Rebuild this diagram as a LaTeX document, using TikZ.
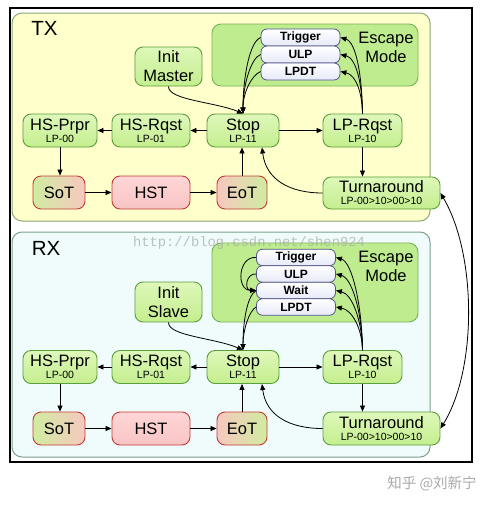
\documentclass[tikz,border=0pt]{standalone}
\usepackage{fontspec}
\setmainfont{Liberation Sans}
\newfontfamily\wmmono{Liberation Mono}
\newfontfamily\wmcjk{Noto Sans CJK SC}
\usetikzlibrary{arrows.meta,calc}
\definecolor{txfill}{RGB}{255,255,204}
\definecolor{txline}{RGB}{138,168,118}
\definecolor{rxfill}{RGB}{240,252,252}
\definecolor{rxline}{RGB}{122,160,140}
\definecolor{escfill}{RGB}{190,236,143}
\definecolor{escline}{RGB}{120,178,88}
\definecolor{gntop}{RGB}{222,248,186}
\definecolor{gnbot}{RGB}{196,238,142}
\definecolor{gnline}{RGB}{92,158,60}
\definecolor{pktop}{RGB}{255,214,214}
\definecolor{pkbot}{RGB}{248,196,196}
\definecolor{pkside}{RGB}{246,200,192}
\definecolor{gnside}{RGB}{208,236,160}
\definecolor{rdline}{RGB}{196,58,50}
\definecolor{ebbot}{RGB}{230,234,248}
\definecolor{ebline}{RGB}{84,84,140}
\definecolor{wmgray}{RGB}{170,170,170}
\newcommand\mybig{\fontsize{16.5}{13}\selectfont}
\newcommand\mytwo{\fontsize{16.5}{19}\selectfont}
\newcommand\mysmall{\fontsize{10.5}{13}\selectfont}
\newcommand\mybold{\fontsize{12}{14}\selectfont\bfseries}
\tikzset{
  gn/.style={draw=gnline, line width=0.9pt, rounded corners=8pt, top color=gntop, bottom color=gnbot,
    align=center, inner sep=0pt, minimum height=33pt},
  soe/.style={draw=rdline, line width=0.9pt, rounded corners=8pt, left color=gnside, right color=pkside,
    inner sep=0pt, minimum height=33pt, font=\mybig},
  eoe/.style={draw=rdline, line width=0.9pt, rounded corners=8pt, left color=pkside, right color=gnside,
    inner sep=0pt, minimum height=33pt, font=\mybig},
  hs/.style={draw=rdline, line width=0.9pt, rounded corners=8pt, top color=pktop, bottom color=pkbot,
    inner sep=0pt, minimum height=33pt, font=\mybig},
  eb/.style={draw=ebline, line width=0.8pt, rounded corners=6pt, top color=white, bottom color=ebbot,
    minimum width=79pt, minimum height=17pt, inner sep=0pt, font=\mybold},
  panelbox/.style={line width=1pt, rounded corners=10pt},
  escbox/.style={draw=escline, fill=escfill, line width=0.9pt, rounded corners=9pt},
  arr/.style={-{Triangle[length=6pt,width=5pt]}, line width=0.8pt},
  biarr/.style={{Triangle[length=6pt,width=5pt]}-{Triangle[length=6pt,width=5pt]}, line width=0.8pt},
  lbl/.style={inner sep=0pt, font=\fontsize{20.5}{22}\selectfont},
  esclbl/.style={inner sep=0pt, align=center, font=\mytwo},
}
\begin{document}
\begin{tikzpicture}[x=1pt,y=-1pt]
\useasboundingbox (0,0) rectangle (490,507);
\fill[white] (0,0) rectangle (490,507);
% outer frame
\draw[line width=1.1pt] (10,8) rectangle (472,462);
% panels
\draw[panelbox, draw=txline, fill=txfill] (12,13) rectangle (430,221);
\draw[panelbox, draw=rxline, fill=rxfill] (12,232) rectangle (430,457);
\node[lbl] (txl) at (44.5,28.5) {TX};
\node[lbl] (rxl) at (46,248) {RX};
% escape mode boxes
\draw[escbox] (212,24) rectangle (418,86);
\draw[escbox] (212,243) rectangle (418,322);
\node[esclbl] (escT) at (386,47.5) {Escape\\Mode};
\node[esclbl] (escR) at (386,266.5) {Escape\\Mode};

% ---------- TX ----------
\node[gn, font=\mytwo, minimum width=67pt, minimum height=39pt] (imT) at (168.5,66.5) {Init\\Master};
\node[gn, minimum width=74pt] (hpT) at (60,130.5) {\mybig HS-Prpr\\\mysmall LP-00};
\node[gn, minimum width=78pt] (hrT) at (151,130.5) {\mybig HS-Rqst\\\mysmall LP-01};
\node[gn, minimum width=72pt] (stT) at (243,130.5) {\mybig Stop\\\mysmall LP-11};
\node[gn, minimum width=79pt] (lrT) at (362.5,130.5) {\mybig LP-Rqst\\\mysmall LP-10};
\node[soe, minimum width=52pt] (soT) at (59,192.5) {SoT};
\node[hs, minimum width=78pt] (hsT) at (151,192.5) {HST};
\node[eoe, minimum width=50pt] (eoT) at (242,192.5) {EoT};
\node[gn, minimum width=117pt, minimum height=32pt] (taT) at (381.5,193) {\mybig Turnaround\\\mysmall LP-00>10>00>10};
\node[eb] (trT) at (300.5,37.5) {Trigger};
\node[eb] (ulT) at (300.5,54.5) {ULP};
\node[eb] (ldT) at (300.5,71.5) {LPDT};

\draw[arr] (stT) -- (hrT);
\draw[arr] (hrT) -- (hpT);
\draw[arr] (hpT) -- (hpT |- soT.north);
\draw[arr] (soT) -- (hsT);
\draw[arr] (hsT) -- (eoT);
\draw[arr] (eoT.north) -- (eoT |- stT.south);
\draw[arr] (stT) -- (lrT);
\draw[arr] (lrT) -- (lrT |- taT.north);
\draw[arr] (taT.west) .. controls (290,193) and (266,180) .. ([xshift=19pt]stT.south);
\draw[arr] (imT.south) .. controls (168,100) and (215,102) .. (stT.north);
\draw[arr] (trT.west) .. controls (249,42) and (243,80) .. (stT.north);
\draw[arr] (ulT.west) .. controls (251,58) and (243,85) .. (stT.north);
\draw[arr] (ldT.west) .. controls (252,75) and (243,92) .. (stT.north);
\draw[arr] (lrT.north) .. controls (362,75) and (356,42) .. (trT.east);
\draw[arr] (lrT.north) .. controls (362,82) and (356,58) .. (ulT.east);
\draw[arr] (lrT.north) .. controls (362,92) and (356,75) .. (ldT.east);

% ---------- RX ----------
\node[gn, font=\mytwo, minimum width=67pt, minimum height=40pt] (imR) at (168.5,302) {Init\\Slave};
\node[gn, minimum width=74pt] (hpR) at (60,367) {\mybig HS-Prpr\\\mysmall LP-00};
\node[gn, minimum width=78pt] (hrR) at (151,367) {\mybig HS-Rqst\\\mysmall LP-01};
\node[gn, minimum width=72pt] (stR) at (243,367) {\mybig Stop\\\mysmall LP-11};
\node[gn, minimum width=79pt] (lrR) at (362.5,367) {\mybig LP-Rqst\\\mysmall LP-10};
\node[soe, minimum width=52pt] (soR) at (59,428.5) {SoT};
\node[hs, minimum width=78pt] (hsR) at (151,428.5) {HST};
\node[eoe, minimum width=50pt] (eoR) at (242,428.5) {EoT};
\node[gn, minimum width=117pt, minimum height=33pt] (taR) at (381.5,428.5) {\mybig Turnaround\\\mysmall LP-00>10>00>10};
\node[eb, minimum height=16.5pt] (trR) at (296,257.5) {Trigger};
\node[eb, minimum height=16.5pt] (ulR) at (296,274) {ULP};
\node[eb, minimum height=16.5pt] (waR) at (296,290.5) {Wait};
\node[eb, minimum height=16.5pt] (ldR) at (296,307) {LPDT};

\draw[arr] (stR) -- (hrR);
\draw[arr] (hrR) -- (hpR);
\draw[arr] (hpR) -- (hpR |- soR.north);
\draw[arr] (soR) -- (hsR);
\draw[arr] (hsR) -- (eoR);
\draw[arr] (eoR.north) -- (eoR |- stR.south);
\draw[arr] (stR) -- (lrR);
\draw[arr] (lrR) -- (lrR |- taR.north);
\draw[arr] (taR.west) .. controls (290,428.5) and (266,416) .. ([xshift=19pt]stR.south);
\draw[arr] (imR.south) .. controls (168,336) and (215,338) .. (stR.north);
\draw[arr] (trR.west) .. controls (238,256) and (236,290) .. (waR.west);
\draw[arr] (ulR.west) .. controls (246,273) and (244,290) .. (waR.west);
\draw[arr] (waR.west) .. controls (247,296) and (243,322) .. (stR.north);
\draw[arr] (ldR.west) .. controls (249,311) and (243,330) .. (stR.north);
\draw[arr] (lrR.north) .. controls (362,305) and (352,262) .. (trR.east);
\draw[arr] (lrR.north) .. controls (362,312) and (352,278) .. (ulR.east);
\draw[arr] (lrR.north) .. controls (362,320) and (352,294) .. (waR.east);
\draw[arr] (lrR.north) .. controls (362,328) and (352,310) .. (ldR.east);

% TX <-> RX turnaround
\draw[biarr] (taT.east) .. controls (477,255) and (477,370) .. (taR.east);

% watermarks
\node[inner sep=0pt, text=wmgray, opacity=0.75, font=\wmmono\fontsize{13.8}{15}\selectfont] (wm1) at (249,243) {http://blog.csdn.net/shen924};
\node[inner sep=0pt, text=wmgray, font=\wmcjk\fontsize{14.5}{16}\selectfont] (wm2) at (432,484) {知乎 @刘新宁};
\end{tikzpicture}
\end{document}
